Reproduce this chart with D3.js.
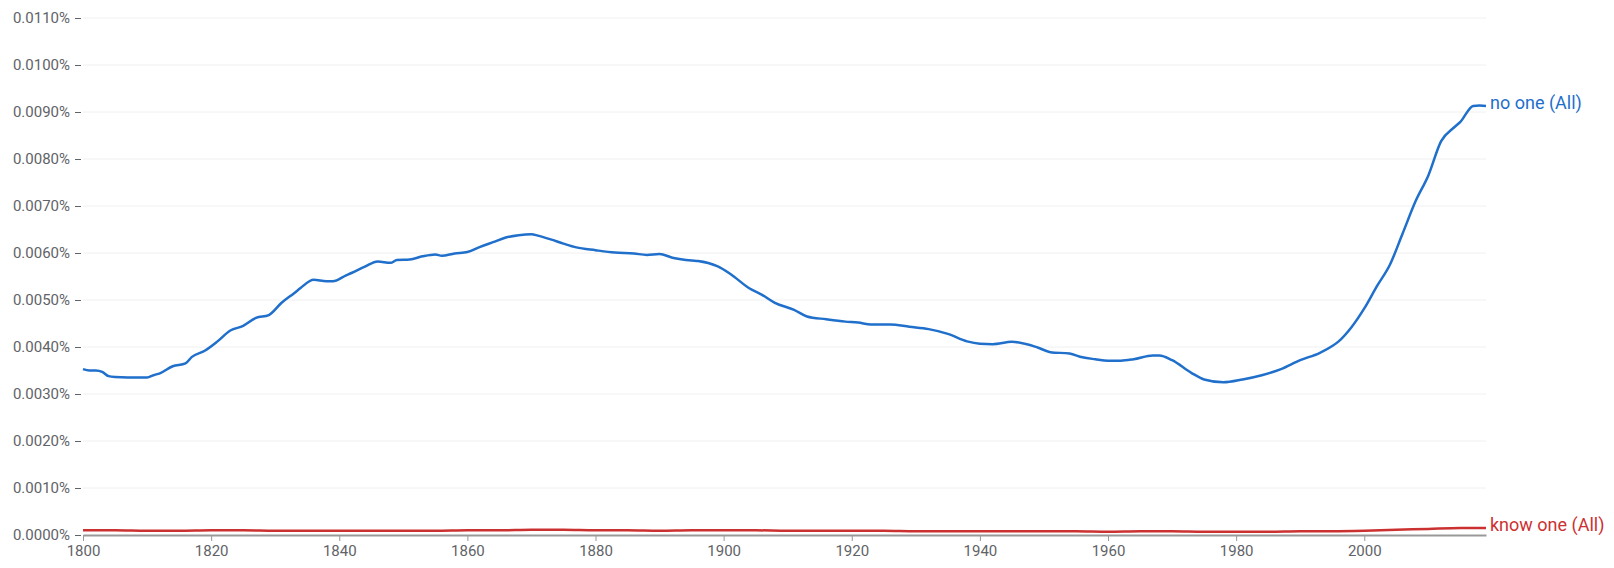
<!DOCTYPE html>
<html>
<head>
<meta charset="utf-8">
<script src="https://cdn.jsdelivr.net/npm/d3@7"></script>
<style>
  body { margin: 0; background: #fff; }
  #chart text { font-family: Roboto, "Noto Sans", sans-serif; }
</style>
</head>
<body>
<div id="chart"></div>
<script>
// values in percent
const noOneYears = [1800, 1801, 1802, 1803, 1804, 1805, 1807, 1810, 1811, 1812, 1814, 1816, 1817, 1819, 1821, 1823, 1825, 1827, 1829, 1831, 1833, 1834, 1836, 1838, 1839, 1841, 1842, 1844, 1846, 1848, 1849, 1851, 1853, 1855, 1856, 1858, 1860, 1862, 1864, 1866, 1868, 1870, 1871, 1873, 1875, 1877, 1880, 1883, 1886, 1888, 1890, 1892, 1895, 1896, 1899, 1901, 1904, 1906, 1908, 1911, 1913, 1916, 1919, 1921, 1923, 1926, 1929, 1932, 1935, 1938, 1940, 1942, 1945, 1949, 1951, 1954, 1956, 1958, 1960, 1962, 1964, 1967, 1968, 1970, 1973, 1975, 1978, 1981, 1984, 1987, 1990, 1993, 1995, 1996, 1998, 2000, 2002, 2004, 2006, 2008, 2010, 2012, 2014, 2015, 2017, 2018, 2019];
const noOneValues = [0.00353, 0.00350, 0.00350, 0.00347, 0.00338, 0.00336, 0.00335, 0.00335, 0.00340, 0.00344, 0.00359, 0.00365, 0.00379, 0.00392, 0.00412, 0.00435, 0.00445, 0.00462, 0.00468, 0.00494, 0.00515, 0.00526, 0.00543, 0.00540, 0.00540, 0.00552, 0.00558, 0.00571, 0.00582, 0.00579, 0.00585, 0.00586, 0.00593, 0.00597, 0.00594, 0.00599, 0.00602, 0.00613, 0.00623, 0.00633, 0.00638, 0.00640, 0.00637, 0.00629, 0.00620, 0.00612, 0.00606, 0.00601, 0.00599, 0.00596, 0.00598, 0.00590, 0.00584, 0.00583, 0.00572, 0.00556, 0.00525, 0.00511, 0.00494, 0.00479, 0.00465, 0.00459, 0.00454, 0.00452, 0.00448, 0.00448, 0.00443, 0.00438, 0.00428, 0.00412, 0.00407, 0.00406, 0.00411, 0.00399, 0.00389, 0.00386, 0.00378, 0.00374, 0.00371, 0.00371, 0.00374, 0.00382, 0.00382, 0.00372, 0.00345, 0.00331, 0.00325, 0.00331, 0.00340, 0.00353, 0.00372, 0.00387, 0.00402, 0.00412, 0.00442, 0.00482, 0.00530, 0.00575, 0.00642, 0.00710, 0.00765, 0.00838, 0.00867, 0.00879, 0.00913, 0.00914, 0.00913];

const knowOneYears = [1800, 1805, 1810, 1815, 1820, 1825, 1830, 1835, 1840, 1845, 1850, 1855, 1860, 1865, 1870, 1875, 1880, 1885, 1890, 1895, 1900, 1905, 1910, 1915, 1920, 1925, 1930, 1935, 1940, 1945, 1950, 1955, 1960, 1965, 1970, 1975, 1980, 1985, 1990, 1995, 2000, 2005, 2010, 2015, 2019];
const knowOneValues = [0.00010, 0.00010, 0.00009, 0.00009, 0.00010, 0.00010, 0.00009, 0.00009, 0.00009, 0.00009, 0.00009, 0.00009, 0.00010, 0.00010, 0.00011, 0.00011, 0.00010, 0.00010, 0.00009, 0.00010, 0.00010, 0.00010, 0.00009, 0.00009, 0.00009, 0.00009, 0.00008, 0.00008, 0.00008, 0.00008, 0.00008, 0.00008, 0.00007, 0.00008, 0.00008, 0.00007, 0.00007, 0.00007, 0.00008, 0.00008, 0.00009, 0.00011, 0.00013, 0.00015, 0.00015];

const yTicks = [0, 0.001, 0.002, 0.003, 0.004, 0.005, 0.006, 0.007, 0.008, 0.009, 0.010, 0.011];
const xTicks = [1800, 1820, 1840, 1860, 1880, 1900, 1920, 1940, 1960, 1980, 2000];

const series = [
    { name: "no one (All)", color: "#1f6fcb", values: noOneYears.map((y, i) => ({ year: y, v: noOneValues[i] })) },
    { name: "know one (All)", color: "#cc3131", values: knowOneYears.map((y, i) => ({ year: y, v: knowOneValues[i] })) }
];

const svg = d3.select("#chart").append("svg")
    .attr("width", 1614)
    .attr("height", 568);

const margin = { top: 18, right: 128, bottom: 33, left: 83 },
    width = +svg.attr("width"),
    height = +svg.attr("height");

const x = d3.scaleLinear()
    .domain([1800, 2019])
    .range([margin.left, width - margin.right]);

const y = d3.scaleLinear()
    .domain([0, 0.011])
    .range([height - margin.bottom, margin.top]);

// gridlines
svg.append("g")
    .selectAll("line")
    .data(yTicks.slice(1))
    .join("line")
    .attr("x1", x.range()[0])
    .attr("x2", x.range()[1])
    .attr("y1", d => y(d))
    .attr("y2", d => y(d))
    .attr("stroke", "#f0f0f0")
    .attr("stroke-width", 1);

// Y axis (ticks and labels only)
const yAxis = svg.append("g")
    .attr("transform", `translate(${margin.left - 2},0)`)
    .call(d3.axisLeft(y).tickValues(yTicks).tickFormat(d => d.toFixed(4) + "%").tickSize(6).tickPadding(5));
yAxis.select(".domain").remove();
yAxis.selectAll(".tick line").attr("stroke", "#5f6368");
yAxis.selectAll(".tick text")
    .attr("fill", "#5f6368")
    .style("font-size", "15px");

// X axis
const xAxis = svg.append("g")
    .attr("transform", `translate(0,${height - margin.bottom})`)
    .call(d3.axisBottom(x).tickValues(xTicks).tickFormat(d3.format("d")).tickSize(6).tickSizeOuter(0).tickPadding(4));
xAxis.select(".domain").attr("stroke", "#999").attr("stroke-width", 2);
xAxis.selectAll(".tick line").attr("stroke", "#999");
xAxis.selectAll(".tick text")
    .attr("fill", "#5f6368")
    .style("font-size", "15px");

const line = d3.line()
    .x(d => x(d.year))
    .y(d => y(d.v))
    .curve(d3.curveMonotoneX);

svg.selectAll(".series")
    .data(series)
    .join("path")
    .attr("class", "series")
    .attr("fill", "none")
    .attr("stroke", d => d.color)
    .attr("stroke-width", 2.5)
    .attr("d", d => line(d.values));

// end labels
svg.selectAll(".label")
    .data(series)
    .join("text")
    .attr("class", "label")
    .attr("x", x(2019) + 4)
    .attr("y", d => y(d.values[d.values.length - 1].v))
    .attr("dy", "0.16em")
    .attr("fill", d => d.color)
    .style("font-size", "18px")
    .text(d => d.name);
</script>
</body>
</html>
